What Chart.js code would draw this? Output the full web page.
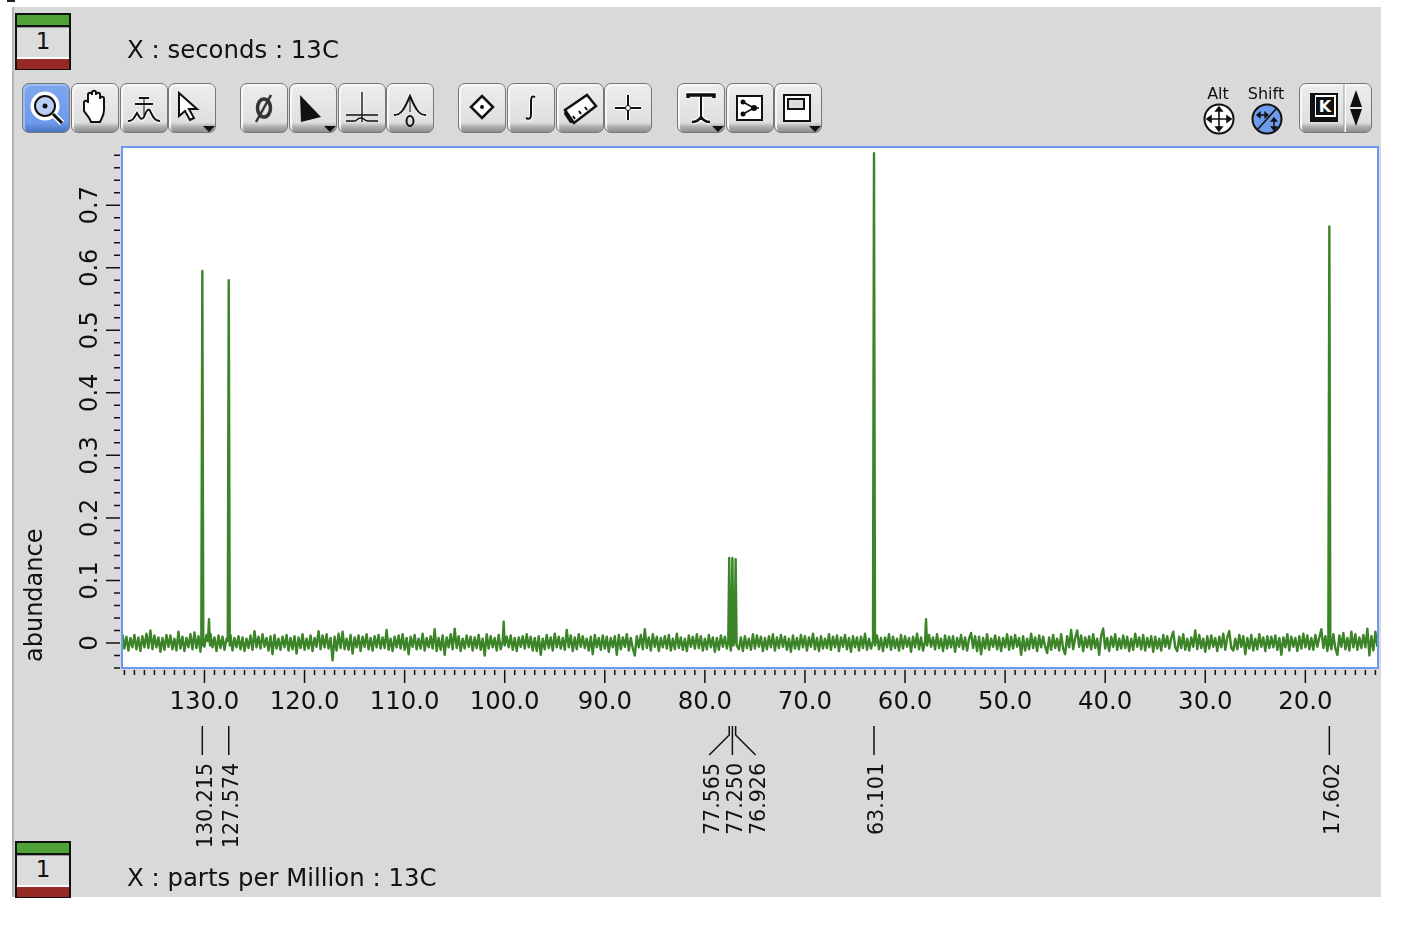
<!DOCTYPE html>
<html>
<head>
<meta charset="utf-8">
<title>13C spectrum</title>
<script src="https://cdn.jsdelivr.net/npm/chart.js@4/dist/chart.umd.min.js"></script>
<style>
  html, body { margin: 0; padding: 0; background: #fff; }
  body { width: 1402px; height: 942px; overflow: hidden; position: relative; font-family: "DejaVu Sans", sans-serif; color: #111; }
  #panel { position: absolute; left: 12px; top: 7px; width: 1369px; height: 890px; background: #d9d9d9; border-left: 2px solid #b4b4b4; box-sizing: border-box; overflow: hidden; }
  #chart { position: absolute; left: 0; top: 0; }
  .flag { position: absolute; left: 15px; width: 54px; height: 55px; border: 1px solid #111; background: #111; overflow: hidden; }
  .flag i { display: block; position: absolute; left: 1px; right: 1px; }
  .flag .g { top: 1px; height: 10px; background: #4ea236; }
  .flag .m { top: 13px; height: 29px; background: #dcdcdc; border-top: 1px solid #9a9a9a; border-bottom: 2px solid #fff; text-align: center; font-style: normal; font-size: 23px; line-height: 26px; }
  .flag .r { top: 45px; height: 10px; background: #962b26; }
  .axisname { position: absolute; left: 127px; font-size: 24.4px; white-space: nowrap; }
  .btn { position: absolute; top: 83px; width: 48px; height: 50px; box-sizing: border-box; border: 1px solid #777; border-radius: 7px; background: linear-gradient(#ededed, #dfdfdf 80%, #ababab 90%, #8e8e8e); box-shadow: inset 2px 2px 0 #f7f7f7; }
  .btn.on { background: linear-gradient(#7fa6ee, #6f9bec 80%, #4a74c4); box-shadow: inset 2px 2px 0 #9dbcf4; }
  .btn svg { position: absolute; left: 0; top: 0; width: 46px; height: 48px; }
  .hint { position: absolute; font-size: 16px; top: 84px; transform: translateX(-50%); }
  .disc { position: absolute; top: 103px; width: 32px; height: 32px; }
</style>
</head>
<body>
<div style="position:absolute;left:7px;top:0;width:8px;height:2px;background:#222"></div>
<div id="panel"></div>
<canvas id="chart" width="1402" height="942"></canvas>

<div class="flag" style="top:13px"><i class="g"></i><i class="m">1</i><i class="r"></i></div>
<div class="flag" style="top:841px;height:55px"><i class="g"></i><i class="m">1</i><i class="r"></i></div>
<div class="axisname" style="top:35px">X : seconds : 13C</div>
<div class="axisname" style="top:863px">X : parts per Million : 13C</div>

<div id="toolbar"></div>
<div class="hint" style="left:1218px">Alt</div>
<div class="hint" style="left:1266px">Shift</div>
<svg class="disc" style="left:1203px" viewBox="0 0 32 32"><circle cx="16" cy="16" r="14.5" fill="#fff" stroke="#111" stroke-width="2"/><path d="M16 5V27M5 16H27M16 4l-3 4h6zM16 28l-3-4h6zM4 16l4-3v6zM28 16l-4-3v6z" stroke="#111" fill="#111" stroke-width="1.6"/></svg>
<svg class="disc" style="left:1251px" viewBox="0 0 32 32"><circle cx="16" cy="16" r="14.5" fill="#6f9bec" stroke="#111" stroke-width="2"/><path d="M7 26L25 6" stroke="#111" stroke-width="1.6"/><path d="M6 12H17M6 12l3-2.5v5zM17 12l-3-2.5v5zM23 15V27M23 15l-2.5 3h5zM23 27l-2.5-3h5z" stroke="#111" fill="#111" stroke-width="1.4"/></svg>

<script>
// ─── Data ─────────────────────────────────────────────────────────────────────
const xTickLabels = ['130.0', '120.0', '110.0', '100.0', '90.0', '80.0', '70.0', '60.0', '50.0', '40.0', '30.0', '20.0'];
const yTickLabels = ['0', '0.1', '0.2', '0.3', '0.4', '0.5', '0.6', '0.7'];
const yAxisTitle = 'abundance';

// labelled peaks
const peakPpm     = [130.215, 127.574, 77.565, 77.25, 76.926, 63.101, 17.602];
const peakLabels  = ['130.215', '127.574', '77.565', '77.250', '76.926', '63.101', '17.602'];
const peakHeights = [0.595, 0.580, 0.136, 0.136, 0.134, 0.783, 0.666];

// small unlabelled peaks
const minorPpm     = [129.55, 100.1, 57.9];
const minorHeights = [0.038, 0.034, 0.038];

// baseline noise, thousandths of abundance, one row per 4 ppm from 138.2 down
const baselineStartPpm = 138.2;
const baselineStepPpm = 0.2;
const baseline = [
  14,-9,10,-12,8,-7,13,-10,9,-13,11,-7,15,-8,20,-10,12,-7,9,-14,
  8,-11,13,-6,12,-10,7,-12,18,-9,10,-13,8,-7,14,-10,17,-8,11,-14,
  11,-6,13,-10,15,-7,9,-13,12,-8,10,-11,7,-9,13,-12,8,-7,11,-10,
  9,-13,7,-8,12,-11,19,-7,10,-9,14,-6,8,-12,11,-18,13,-9,7,-11,
  10,-7,13,-12,8,-10,11,-17,9,-8,14,-11,7,-9,12,-13,8,-6,19,-10,
  12,-7,14,-9,8,-28,10,-12,15,-8,18,-10,7,-11,13,-17,9,-7,12,-13,
  10,-6,14,-10,8,-12,11,-7,13,-9,9,-8,21,-11,7,-13,10,-7,12,-9,
  14,-11,8,-18,10,-6,13,-10,7,-9,15,-12,8,-7,11,-9,22,-13,8,-11,
  12,-19,9,-7,14,-10,23,-8,11,-13,7,-9,12,-6,10,-12,9,-8,13,-11,
  7,-20,14,-9,11,-7,8,-12,13,-10,9,-26,10,-7,12,-11,8,-13,9,-6,
  11,-9,14,-7,10,-12,8,-13,11,-19,7,-10,13,-8,9,-12,15,-7,10,-9,
  8,-11,21,-7,12,-13,9,-10,14,-6,11,-8,7,-12,10,-18,13,-7,8,-11,
  12,-9,10,-14,8,-7,11,-19,13,-10,9,-6,14,-12,8,-9,-20,11,-7,13,
  -10,22,-8,9,-12,14,-6,10,-13,8,-7,11,-9,13,-12,7,-10,15,-8,9,
  -11,7,-13,12,-6,10,-9,14,-8,11,-12,7,-10,13,-7,9,-14,8,-11,12,
  -6,10,-9,13,-12,8,-7,15,-10,9,-13,11,-8,7,-11,14,-9,12,-6,10,
  -13,8,-10,11,-7,14,-12,9,-8,13,-6,10,-11,7,-14,12,-9,8,-10,13,
  -7,11,-12,9,-6,15,-10,8,-13,11,-9,7,-8,14,-11,10,-7,12,-13,9,
  -6,13,-10,8,-14,11,-7,9,-12,10,-8,15,-11,7,-9,13,-6,12,-10,8,
  -13,9,-7,14,-11,10,-8,7,-12,13,-9,11,-6,8,-14,10,-7,15,-10,9,
  -12,8,-11,13,-6,9,-10,14,-8,7,-13,12,-9,10,-7,11,-14,8,-6,13,
  -10,9,-12,7,16,-8,11,-13,10,-18,8,-9,14,-11,7,-6,12,-10,9,-13,
  8,-7,14,-11,10,-9,13,-6,8,-19,11,-12,7,-10,15,-8,9,-13,12,-7,
  10,-6,-16,9,-11,13,-8,7,-12,14,-9,-18,11,-7,21,-10,8,20,-6,12,
  -13,9,-7,11,-10,14,-8,7,-19,12,23,-9,8,-13,10,-6,14,-11,7,-9,
  12,-8,10,-13,7,-11,15,-6,9,-10,13,-12,8,-7,11,-14,10,-9,7,-12,
  13,-6,11,-9,8,18,-7,-13,10,-8,14,-11,7,-12,9,-6,20,-10,13,-8,
  7,-14,11,-9,12,-6,8,-13,10,-7,15,-11,9,19,-8,-12,7,-10,13,-6,
  11,-18,8,-9,13,-12,7,-10,14,-6,9,-13,11,-8,10,-7,12,-11,8,-19,
  9,-7,14,-12,10,-6,8,-13,11,-9,15,-7,12,-10,8,-11,13,-6,9,22,
  -8,11,-13,7,-10,14,-9,-19,12,-6,16,-10,8,-12,18,-7,14,-11,9,-8,
  13,-7,23,-20,11,-12,18,-6
];

// ─── Spectrum points ──────────────────────────────────────────────────────────
const peakHalfWidth = 0.1;
const allPeaks = peakPpm.map((p, i) => ({ p, h: peakHeights[i] }))
  .concat(minorPpm.map((p, i) => ({ p, h: minorHeights[i] })));

const points = [];
baseline.forEach((v, i) => {
  const x = baselineStartPpm - i * baselineStepPpm;
  if (!allPeaks.some(k => Math.abs(k.p - x) < peakHalfWidth + 0.04)) points.push({ x, y: v / 1000 });
});
allPeaks.forEach(k => {
  points.push({ x: k.p + peakHalfWidth, y: 0.003 }, { x: k.p, y: k.h }, { x: k.p - peakHalfWidth, y: -0.004 });
});
points.sort((a, b) => b.x - a.x);

// ─── Toolbar ──────────────────────────────────────────────────────────────────
const ink = 'stroke="#111" fill="none" stroke-width="2"';
const halo = (d, w) => `<path d="${d}" stroke="#fff" stroke-width="${w}" fill="none"/><path d="${d}" stroke="#111" stroke-width="2" fill="none"/>`;
const drop = '<path d="M34 42h12l-6 6z" fill="#111"/>';
const tools = [
  [22,  `<circle cx="22" cy="22" r="12" fill="none" stroke="#fff" stroke-width="5"/><circle cx="22" cy="22" r="10" fill="#b9cff7" ${ink}/><circle cx="22" cy="22" r="2.5" fill="#111"/><path d="M30 30l9 9" stroke="#fff" stroke-width="6"/><path d="M30 30l9 9" stroke="#111" stroke-width="3"/>`, true],
  [71,  `<path d="M12 27V19c0-3 4-3 4 0V11c0-3 4-3 4 0v-2c0-3 4-3 4 0v2c0-3 4-3 4 0v4c0-3 4-3 4 0v11c0 6-3 9-4 12H19c-1-4-5-8-7-11z" fill="#fff" stroke="#111" stroke-width="2"/>`],
  [120, `${halo('M7 37c5 0 6-3 9-8 3 5 4 8 7 4 3-8 5-10 7-4 3 6 5 8 9 8', 4)}${halo('M14 20h18M18 14h10', 3)}<path d="M23 14v18" stroke="#111"/>`],
  [168, `<path d="M10 9v23l6-5 5 9 4-2-5-9h8z" fill="#fff" stroke="#111" stroke-width="2"/>${drop}`],
  [240, `<ellipse cx="23" cy="24" rx="6.5" ry="9" fill="none" stroke="#333" stroke-width="3.5"/><path d="M30 11L15 38" stroke="#333" stroke-width="2.5"/>`],
  [289, `<path d="M10 11L31 33 11 38z" fill="#111"/>${drop}`],
  [338, `<path d="M23 8v30" stroke="#fff" stroke-width="3"/><path d="M23 8v30M7 31h32M7 37h8c3 0 3-3 7-3s3 3 7 3h10" stroke="#111" stroke-width="1.4" fill="none"/>`],
  [386, `${halo('M7 31c7 0 10-5 16-19 6 14 9 19 16 19', 3)}<ellipse cx="23" cy="37" rx="3.5" ry="5" fill="none" stroke="#111" stroke-width="2"/><path d="M23 12v16" stroke="#111"/>`],
  [458, `<path d="M23 12l11 11-11 11-11-11z" fill="#fff" stroke="#111" stroke-width="2.5"/><circle cx="23" cy="23" r="2" fill="#111"/>`],
  [507, `<path d="M27 13c-4-2-4 2-4 6v11c0 4-1 6-5 4" stroke="#fff" stroke-width="4" fill="none"/><path d="M27 13c-4-2-4 2-4 6v11c0 4-1 6-5 4" stroke="#111" stroke-width="2" fill="none"/>`],
  [556, `<path d="M8 26L30 11l9 11-22 17z" fill="#fff" stroke="#111" stroke-width="2.5"/><path d="M8 26l9 13-4 0-6-9z" fill="#111"/><path d="M22 27l2 3M28 23l2 3M16 32l2 3" stroke="#111" stroke-width="2"/>`],
  [604, `<path d="M23 11v25M10 24h26" stroke="#fff" stroke-width="4"/><path d="M23 11v25M10 24h26" stroke="#111" stroke-width="2"/><circle cx="23" cy="24" r="2.5" fill="#fff" stroke="#111"/>`],
  [677, `<path d="M10 14V10h26v4M23 10v26M14 38c5 0 7-2 9-5 2 3 4 5 9 5" stroke="#fff" stroke-width="5" fill="none"/><path d="M10 14V11h26v3" stroke="#111" stroke-width="3.5" fill="none"/><path d="M23 11v25" stroke="#111" stroke-width="2"/><path d="M14 38c5 0 7-2 9-5 2 3 4 5 9 5" stroke="#111" stroke-width="2.5" fill="none"/>${drop}`],
  [726, `<rect x="10" y="12" width="25" height="24" fill="#fff" stroke="#111" stroke-width="2"/><circle cx="16" cy="18" r="2.5" fill="#111"/><circle cx="16" cy="30" r="2.5" fill="#111"/><circle cx="27" cy="24" r="3" fill="#111"/><path d="M16 18l11 6-11 6M27 24h5" stroke="#111" stroke-width="1.6" fill="none"/>`],
  [774, `<rect x="9" y="11" width="26" height="26" fill="#fff" stroke="#111" stroke-width="2"/><rect x="13" y="15" width="16" height="10" fill="#ddd" stroke="#111" stroke-width="2"/>${drop}`]
];
document.getElementById('toolbar').innerHTML = tools.map(([left, icon, on]) =>
  `<div class="btn${on ? ' on' : ''}" style="left:${left}px"><svg viewBox="0 0 46 48">${icon}</svg></div>`
).join('') +
  `<div class="btn" style="left:1299px;width:73px"><svg viewBox="0 0 71 48" style="width:71px"><path d="M45 0v48" stroke="#fff" stroke-width="2"/><path d="M44 0v48" stroke="#999"/><rect x="11" y="10" width="26" height="27" fill="#fff" stroke="#111" stroke-width="2"/><path d="M11 10h4v27h-4zM11 33h26v4H11z" fill="#111"/><rect x="16" y="13" width="18" height="18" fill="#111"/><text x="25" y="28" font-size="16" font-weight="bold" text-anchor="middle" font-family="DejaVu Sans" fill="#fff">K</text><path d="M56 6l6 17H50zM56 42l6-17H50z" fill="#111"/></svg></div>`;

// ─── Frame, ticks and peak labels ─────────────────────────────────────────────
const spectrumFrame = {
  id: 'spectrumFrame',
  beforeDatasetsDraw(chart) {
    const { ctx, chartArea: a } = chart;
    ctx.save();
    ctx.fillStyle = '#fff';
    ctx.fillRect(a.left, a.top, a.width, a.height);
    ctx.restore();
  },
  afterDraw(chart) {
    const { ctx, chartArea: a, scales: { x, y } } = chart;
    ctx.save();
    ctx.strokeStyle = '#6c98ee';
    ctx.lineWidth = 2;
    ctx.strokeRect(a.left, a.top, a.width, a.height);

    // ticks, long every 10 ppm and every 0.1 abundance
    ctx.strokeStyle = '#111';
    ctx.lineWidth = 1.5;
    ctx.beginPath();
    x.ticks.forEach(t => {
      const px = x.getPixelForValue(t.value);
      ctx.moveTo(px, a.bottom + 2);
      ctx.lineTo(px, a.bottom + (t.value % 10 === 0 ? 15 : 7));
    });
    y.ticks.forEach(t => {
      const py = y.getPixelForValue(t.value);
      ctx.moveTo(a.left - 2, py);
      ctx.lineTo(a.left - (t.label ? 16 : 8), py);
    });
    ctx.stroke();

    ctx.fillStyle = '#111';
    ctx.textBaseline = 'middle';

    // y axis title
    ctx.save();
    ctx.font = '24px "DejaVu Sans"';
    ctx.textAlign = 'left';
    ctx.translate(36, 662);
    ctx.rotate(-Math.PI / 2);
    ctx.fillText(yAxisTitle, 0, 0);
    ctx.restore();

    // peak markers under the axis, the 77 ppm triplet fans out
    ctx.font = '20.6px "DejaVu Sans"';
    ctx.textAlign = 'right';
    peakPpm.forEach((p, i) => {
      const px = x.getPixelForValue(p);
      const fan = i === 2 ? -20 : i === 4 ? 20 : 0;
      ctx.beginPath();
      ctx.moveTo(px, 726);
      if (fan) { ctx.lineTo(px, 735); ctx.lineTo(px + fan, 755); } else ctx.lineTo(px, 755);
      ctx.stroke();
      ctx.save();
      ctx.translate(px + fan + 4, 763);
      ctx.rotate(-Math.PI / 2);
      ctx.fillText(peakLabels[i], 0, 0);
      ctx.restore();
    });
    ctx.restore();
  }
};

// ─── Chart ────────────────────────────────────────────────────────────────────
new Chart(document.getElementById('chart'), {
  type: 'line',
  data: {
    datasets: [{
      data: points,
      borderColor: '#3b8427',
      borderWidth: 2.4,
      borderJoinStyle: 'round',
      pointRadius: 0,
      tension: 0
    }]
  },
  plugins: [spectrumFrame],
  options: {
    responsive: false,
    animation: false,
    devicePixelRatio: 1,
    layout: { padding: { left: 14, top: 147, right: 24, bottom: 0 } },
    plugins: { legend: { display: false }, tooltip: { enabled: false } },
    scales: {
      x: {
        type: 'linear',
        reverse: true,
        min: 12.74,
        max: 138.24,
        afterFit: s => { s.height = 942 - 668; },
        grid: { display: false, drawTicks: false },
        border: { display: false },
        ticks: {
          stepSize: 1,
          includeBounds: false,
          autoSkip: false,
          maxRotation: 0,
          padding: 20,
          color: '#111',
          font: { family: 'DejaVu Sans', size: 24.4 },
          callback: v => xTickLabels.includes(v.toFixed(1)) ? v.toFixed(1) : ''
        }
      },
      y: {
        type: 'linear',
        min: -0.04,
        max: 0.793,
        afterFit: s => { s.width = 122 - 14; },
        grid: { display: false, drawTicks: false },
        border: { display: false },
        ticks: {
          stepSize: 0.02,
          includeBounds: false,
          autoSkip: false,
          minRotation: 90,
          maxRotation: 90,
          crossAlign: 'center',
          padding: 12,
          color: '#111',
          font: { family: 'DejaVu Sans', size: 24 },
          callback: v => {
            const s = String(Number(v.toFixed(2)));
            return yTickLabels.includes(s) ? s : '';
          }
        }
      }
    }
  }
});
</script>
</body>
</html>
